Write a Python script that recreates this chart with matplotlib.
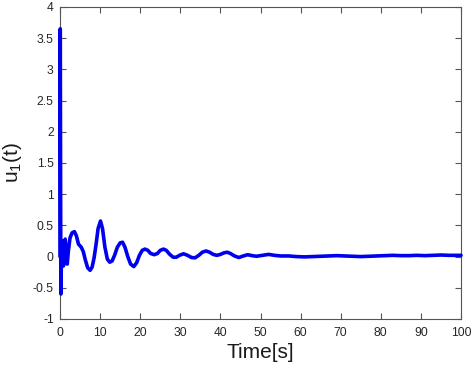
import matplotlib
matplotlib.use("Agg")
import matplotlib.pyplot as plt
from matplotlib.ticker import FormatStrFormatter, MultipleLocator

plt.rcParams['font.family'] = ['Liberation Sans', 'DejaVu Sans']
plt.rcParams['axes.unicode_minus'] = False
plt.rcParams['mathtext.fontset'] = 'custom'
plt.rcParams['mathtext.rm'] = 'Liberation Sans'
plt.rcParams['mathtext.it'] = 'Liberation Sans:italic'
plt.rcParams['mathtext.default'] = 'regular'

# Time samples (s) and control signal u1(t)
t = [0, 0.06, 0.15, 0.22, 0.35, 0.5, 0.65, 0.85, 1.05, 1.3, 1.55, 1.8, 2.1, 2.5,
     3.0, 3.6, 4.1, 4.6, 5.3, 5.8, 6.3, 6.9, 7.5, 8.0, 8.5, 9.0, 9.5, 10.1, 10.6,
     11.2, 11.8, 12.4, 13.0, 13.6, 14.3, 15.0, 15.6, 16.2, 16.9, 17.6, 18.4, 19.1,
     19.8, 20.5, 21.2, 21.9, 22.6, 23.5, 24.3, 25.0, 25.8, 26.5, 27.3, 28.2, 29.0,
     29.8, 30.8, 31.8, 32.8, 33.7, 34.6, 35.5, 36.4, 37.3, 38.2, 39.1, 40.0, 40.9,
     41.7, 42.5, 43.5, 44.6, 45.7, 46.8, 47.9, 49.0, 50.5, 52.0, 53.5, 55, 57, 59,
     61, 63, 65, 67, 69, 71, 73, 75, 77, 79, 81, 83, 85, 87, 89, 91, 93, 95, 97,
     99, 100]
u1 = [0.0, 3.65, 1.0, -0.6, 0.0, 0.25, 0.1, -0.15, 0.05, 0.28, 0.1, -0.12, 0.1, 0.3,
      0.38, 0.40, 0.33, 0.2, 0.15, 0.08, -0.05, -0.18, -0.22, -0.17, -0.02, 0.2, 0.45,
      0.57, 0.45, 0.15, -0.04, -0.09, -0.07, 0.02, 0.15, 0.22, 0.23, 0.15, 0.0, -0.12,
      -0.16, -0.1, 0.02, 0.1, 0.12, 0.1, 0.05, 0.03, 0.05, 0.1, 0.12, 0.1, 0.04, -0.01,
      -0.01, 0.02, 0.045, 0.02, -0.015, -0.02, 0.02, 0.07, 0.09, 0.07, 0.035, 0.02,
      0.035, 0.06, 0.07, 0.05, 0.01, -0.015, 0.01, 0.03, 0.015, 0.005, 0.02, 0.035,
      0.02, 0.01, 0.01, 0.0, -0.005, 0.0, 0.005, 0.01, 0.015, 0.01, 0.005, 0.0, 0.005,
      0.01, 0.015, 0.02, 0.015, 0.015, 0.02, 0.015, 0.02, 0.025, 0.02, 0.02, 0.02]

xticks = list(range(0, 101, 10))

fig = plt.figure(figsize=(4.74, 3.68), dpi=100)
ax = fig.add_axes([0.1266, 0.1332, 0.9726 - 0.1266, 0.981 - 0.1332])
ax.plot(t, u1, color='#0000ee', lw=2.6, solid_joinstyle='round',
        solid_capstyle='round', zorder=3, clip_on=False)

ax.set_xlim(0, 100)
ax.set_ylim(-1, 4)
ax.set_xticks(xticks)
ax.yaxis.set_major_locator(MultipleLocator(0.5))
ax.xaxis.set_major_formatter(FormatStrFormatter('%g'))
ax.yaxis.set_major_formatter(FormatStrFormatter('%g'))
ax.tick_params(direction='in', length=4, width=0.8, top=True, right=True,
               labelsize=8.7, colors='#555555', labelcolor='#262626')
ax.tick_params(axis='x', pad=6)
ax.tick_params(axis='y', pad=4.5)
for s in ax.spines.values():
    s.set_color('#555555')
    s.set_linewidth(0.8)

ax.set_xlabel('Time[s]', fontsize=15, color='#1a1a1a', labelpad=3)
ax.set_ylabel('u$_1$(t)', fontsize=15, color='#1a1a1a', labelpad=6)

fig.savefig('out.png', dpi=100)
